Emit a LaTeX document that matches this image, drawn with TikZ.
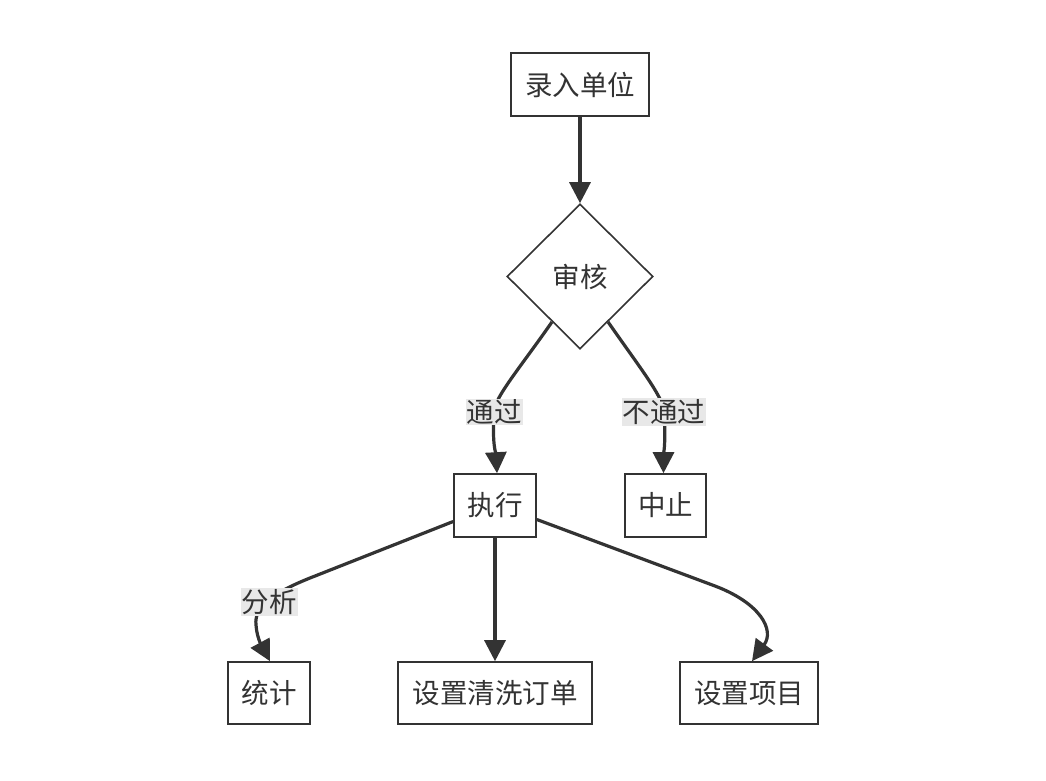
\documentclass[tikz,border=0pt]{standalone}
\usepackage{fontspec}
\newfontfamily\cjk{Noto Sans CJK SC}
\usetikzlibrary{shapes.geometric,arrows.meta,calc}
\definecolor{ink}{HTML}{333333}
\definecolor{lblbg}{HTML}{E8E8E8}
\tikzset{
  box/.style={draw=ink, line width=1.6pt, fill=white, inner sep=0pt, text=ink,
    font=\cjk\fontsize{27.5}{30}\selectfont},
  dia/.style={diamond, draw=ink, line width=1.6pt, fill=white, inner sep=0pt, text=ink,
    font=\cjk\fontsize{27.5}{30}\selectfont, minimum width=146pt, minimum height=145pt},
  edge/.style={draw=ink, line width=3.2pt, -{Triangle[length=21pt,width=21pt]}},
  lbl/.style={fill=lblbg, inner sep=1pt, text=ink, font=\cjk\fontsize{27.5}{30}\selectfont}
}
\begin{document}
\begin{tikzpicture}[x=1pt,y=-1pt]
\useasboundingbox (0,0) rectangle (1046,781);
\node[box, minimum width=138pt, minimum height=63pt] (a) at (580,84.5) {\raisebox{-1.5pt}{录入单位}};
\node[dia] (d) at (580,276.5) {\raisebox{-1.5pt}{审核}};
\node[box, minimum width=82pt, minimum height=63pt] (e) at (495,505.5) {\raisebox{-1.5pt}{执行}};
\node[box, minimum width=81pt, minimum height=63pt] (s) at (665.5,505.5) {\raisebox{-1.5pt}{中止}};
\node[box, minimum width=82pt, minimum height=62pt] (t) at (269,693) {\raisebox{-1.5pt}{统计}};
\node[box, minimum width=194pt, minimum height=62pt] (q) at (495,693) {\raisebox{-1.5pt}{设置清洗订单}};
\node[box, minimum width=138pt, minimum height=62pt] (p) at (749,693) {\raisebox{-1.5pt}{设置项目}};

\coordinate (l1) at (494,412);
\coordinate (l2) at (664,412);
\coordinate (l3) at (269,602);

\draw[edge] (a.south) -- (d.north);
\draw[edge] ($(d.west)!0.62!(d.south)$) .. controls +(-32,46) and +(0,-14) .. (l1)
  .. controls +(-2,33) and +(-1,-19) .. ([xshift=2pt]e.north);
\draw[edge] ($(d.east)!0.62!(d.south)$) .. controls +(32,46) and +(0,-14) .. (l2)
  .. controls +(2,33) and +(0,-19) .. ([xshift=-2pt]s.north);
\draw[edge] ([yshift=-16pt]e.west) -- (310,578) .. controls (270,594) and (254,608) .. (256,625)
  .. controls (257,640) and (264,650) .. ([xshift=1pt]t.north);
\draw[edge] (e.south) -- (q.north);
\draw[edge] ([yshift=-14pt]e.east) -- (715,586) .. controls (760,603) and (775,630) .. ([xshift=3pt]p.north);

\node[lbl] at (l1) {\raisebox{-1.5pt}{通过}};
\node[lbl] at (l2) {\raisebox{-1.5pt}{不通过}};
\node[lbl] at (l3) {\raisebox{-1.5pt}{分析}};
\end{tikzpicture}
\end{document}
